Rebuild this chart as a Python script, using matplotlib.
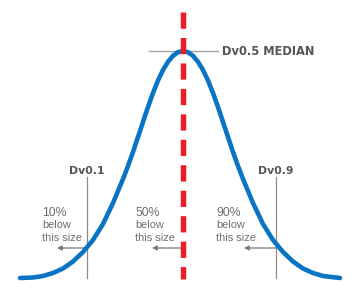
import matplotlib
matplotlib.use('Agg')
import matplotlib.pyplot as plt

plt.rcParams['font.family'] = ['Liberation Sans', 'DejaVu Sans']

# ── data (diagram coordinates) ────────────────────────────────────────────
curve_x = [20, 33, 43, 53, 63, 73, 83, 93, 103, 113, 123, 128, 133, 138, 143,
           148, 153, 158, 163, 168, 173, 178, 183, 188, 193, 198, 203, 208,
           213, 218, 223, 228, 233, 238, 243, 253, 263, 273, 283, 293, 303,
           313, 323, 340]
curve_y = [278, 277.5, 276, 273, 268.5, 261.5, 252, 240, 224, 203, 179, 166,
           152, 137, 122, 107, 93, 80.5, 70, 61.8, 55.8, 52.2, 51, 52.2, 55.8,
           61.8, 70, 80.5, 93, 107, 122, 137, 152, 166, 179, 203, 224, 240,
           252, 261.5, 268.5, 273, 276, 278]

median_x = 183
median_y = 51
d10_x, d90_x = 87, 276
cross_y = 248

pct_values = ['10%', '50%', '90%']
pct_lines = ['below', 'this size']
pct_text_x = [42, 135, 216]
arrow_start = [d10_x, median_x, d90_x]
arrow_end = [57, 152, 244]

# ── figure ─────────────────────────────────────────────────────────────────
fig = plt.figure(figsize=(3.59, 3.0), dpi=100)
ax = fig.add_axes([0, 0, 1, 1])
ax.set_xlim(0, 359)
ax.set_ylim(300, 0)
ax.axis('off')

grey_line = '#8a8a8a'
txt_col = '#6e6e6e'
bold_col = '#555555'
bold_font = ['DejaVu Sans']

# Dv0.1 / Dv0.9 markers
for xv, lbl in [(d10_x, 'Dv0.1'), (d90_x, 'Dv0.9')]:
    ax.plot([xv, xv], [177, 278], color=grey_line, lw=0.9, zorder=1)
    ax.text(xv, 173.5, lbl, ha='center', va='baseline', fontsize=7.8,
            fontweight='bold', color=bold_col, family=bold_font)

# median tick line
ax.plot([149, 218], [median_y, median_y], color='#a0a0a0', lw=1.0, zorder=1)
ax.text(222, 55, 'Dv0.5 MEDIAN', ha='left', va='baseline',
        fontsize=8.3, fontweight='bold', color=bold_col, family=bold_font)

# distribution curve
ax.plot(curve_x, curve_y, color='#0a74c4', lw=3.3, solid_capstyle='round',
        solid_joinstyle='round', zorder=3)

# median dashed line
ax.plot([median_x, median_x], [12, 279], color='#ec1c24', lw=3.9,
        dashes=(3.0, 1.7), zorder=4)

# arrows and percentage labels
for xs, xe, tx, val in zip(arrow_start, arrow_end, pct_text_x, pct_values):
    ax.annotate('', xy=(xe, cross_y), xytext=(xs, cross_y),
                arrowprops=dict(arrowstyle='-|>', color='#777777', lw=0.9,
                                mutation_scale=7, shrinkA=0, shrinkB=0),
                zorder=2)
    ax.text(tx, 215.7, val, ha='left', va='baseline', fontsize=8.8,
            color=txt_col)
    ax.text(tx, 227.8, pct_lines[0], ha='left', va='baseline', fontsize=7.9,
            color=txt_col)
    ax.text(tx, 240.8, pct_lines[1], ha='left', va='baseline', fontsize=7.9,
            color=txt_col)

fig.savefig('out.png', dpi=100)
